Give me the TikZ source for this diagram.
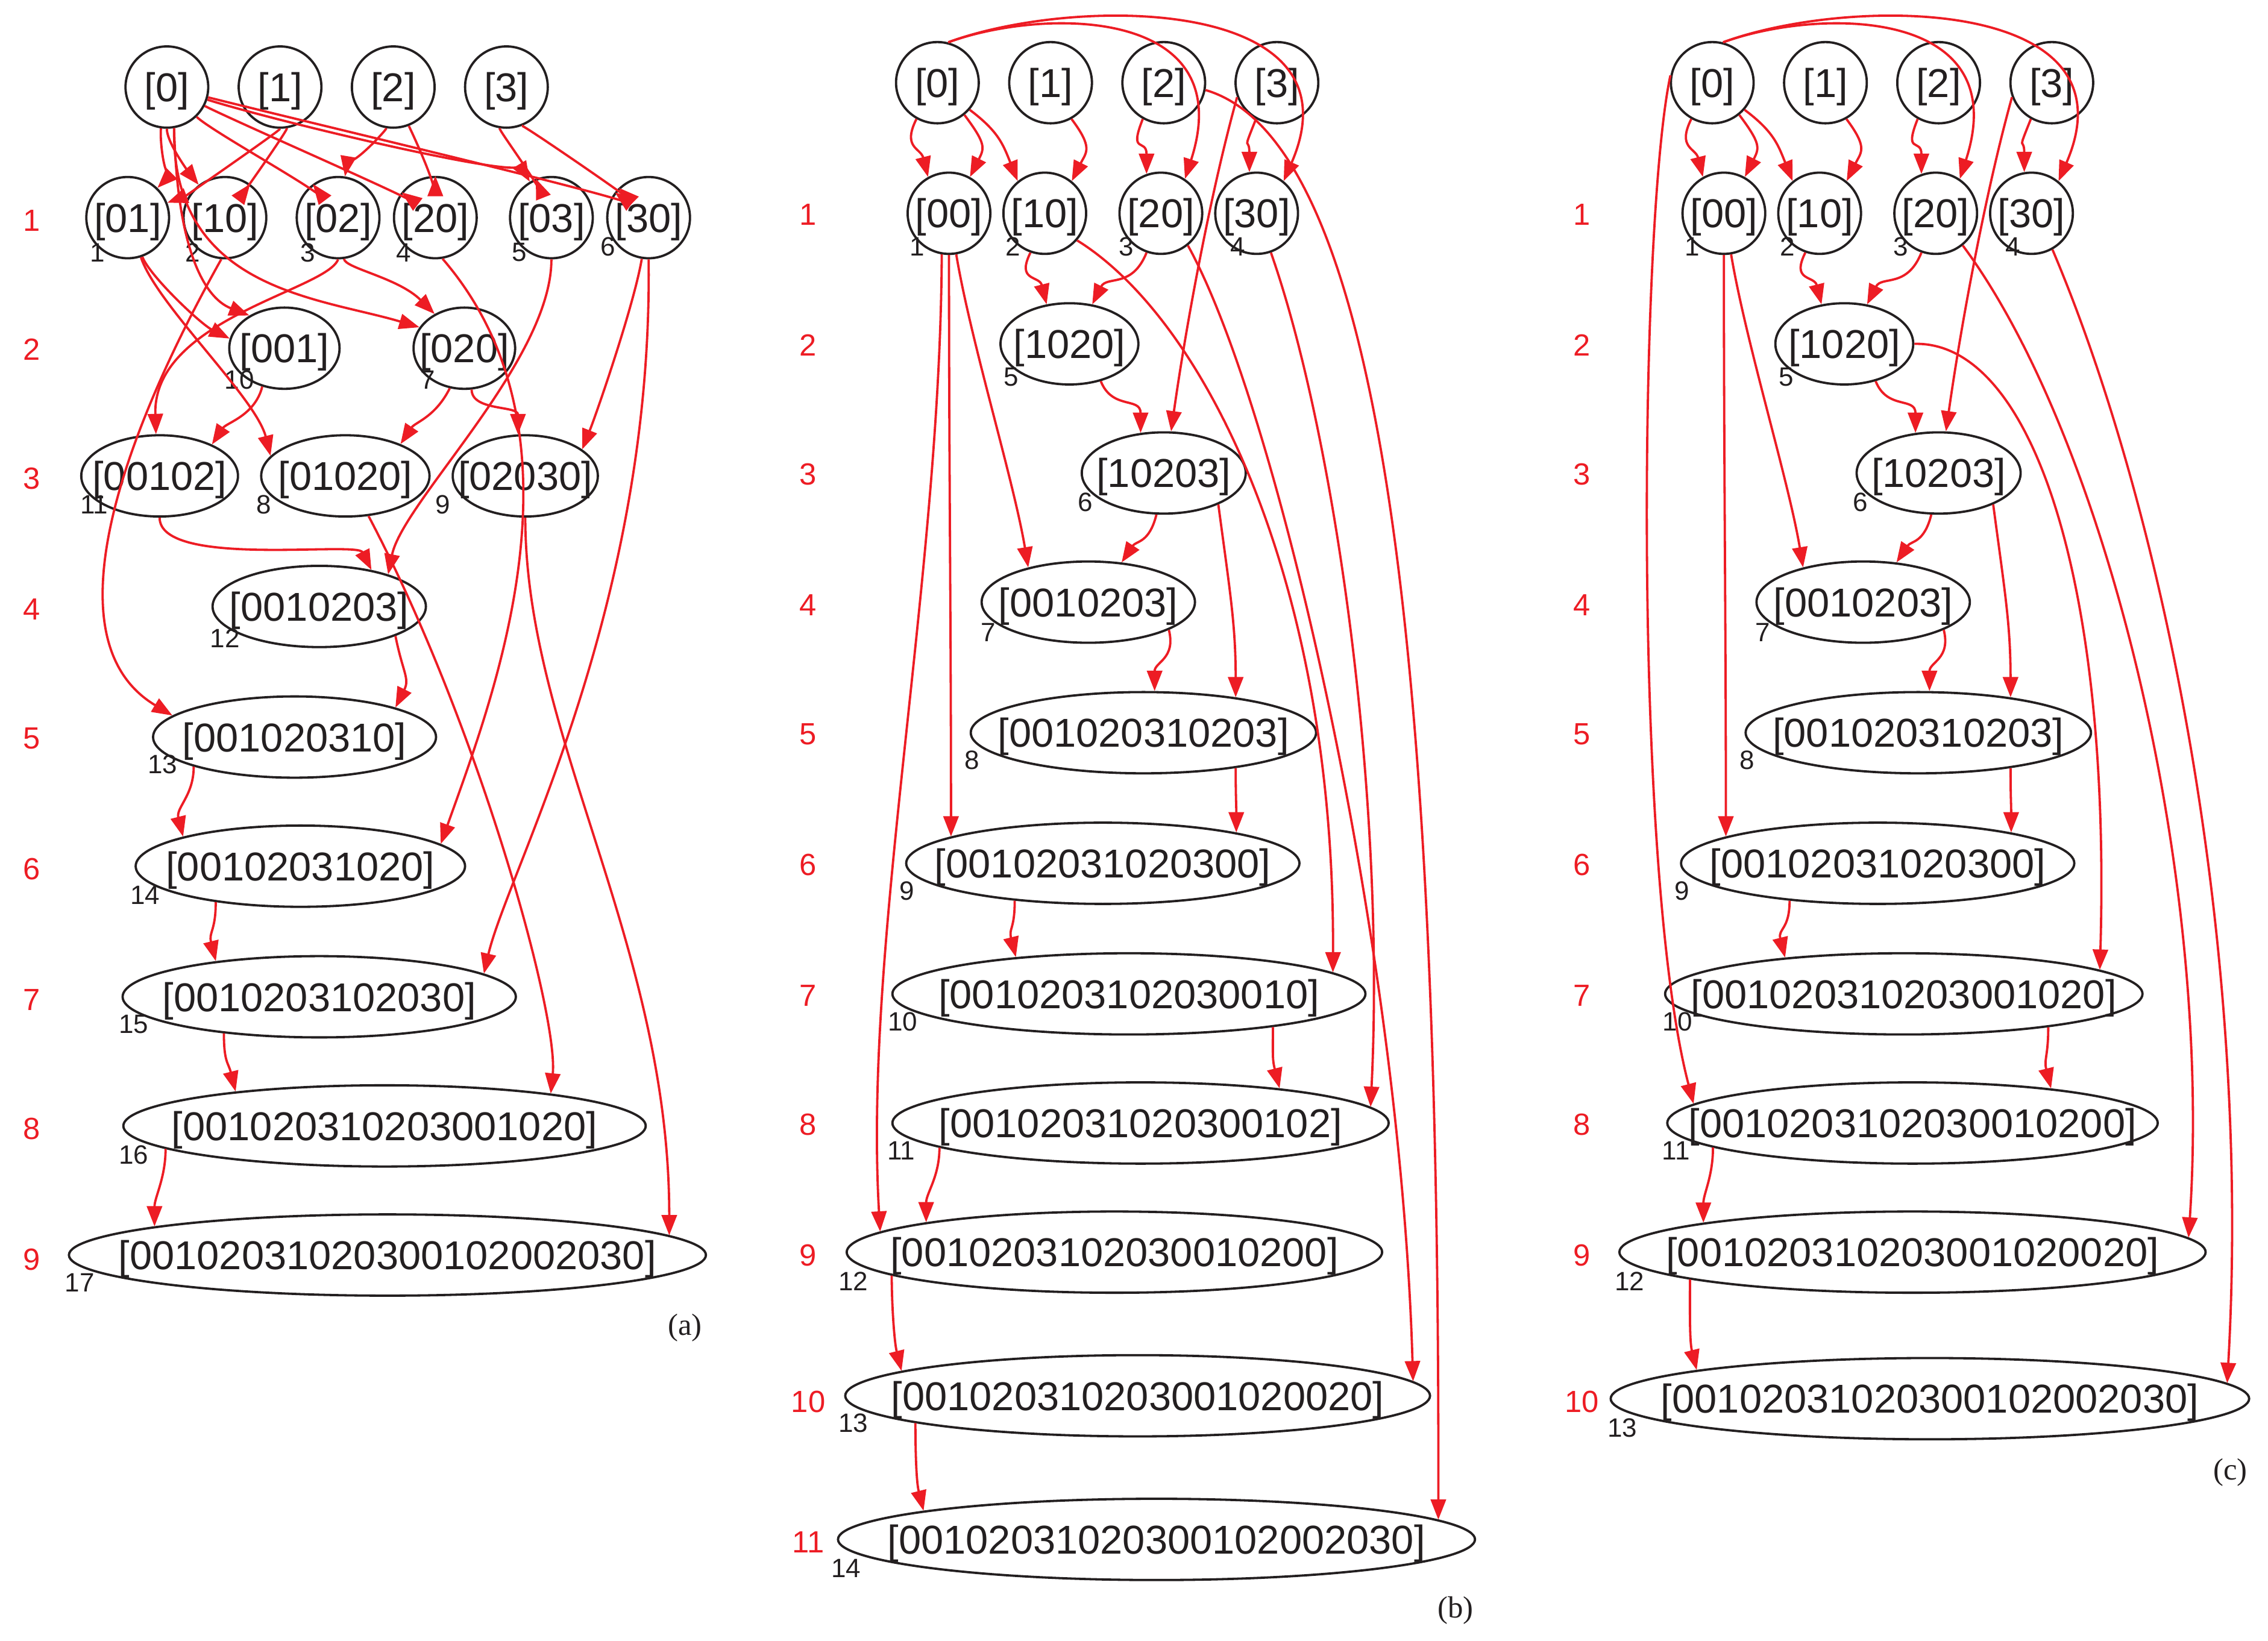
\documentclass[tikz,border=0pt]{standalone}
\usepackage{fontspec}
\setmainfont{Liberation Sans}
\newfontfamily\capfont{Liberation Serif}
\usetikzlibrary{shapes.geometric,arrows.meta,calc}
\definecolor{ered}{RGB}{237,28,36}
\definecolor{ink}{RGB}{35,31,32}
\newcommand{\tx}[1]{\makebox[0pt]{\raisebox{-.36em}[0pt][0pt]{#1}}}
\begin{document}
\begin{tikzpicture}[x=0.1mm,y=-0.1mm,
  nd/.style={draw=ink,ellipse,line width=0.45pt,minimum height=5.6mm,minimum width=#1,inner sep=0pt,font=\fontsize{7.9}{9}\selectfont,text=ink},
  nd/.default=5.7mm,
  e/.style={draw=ered,line width=0.45pt,-{Triangle[length=1.4mm,width=1.05mm]}},
  num/.style={font=\fontsize{5.2}{6}\selectfont,text=ink,inner sep=0pt},
  rl/.style={font=\fontsize{6}{7}\selectfont,text=ered,inner sep=0pt},
  captxt/.style={font=\capfont\fontsize{6}{7}\selectfont,text=ink,inner sep=0pt}]
\useasboundingbox[fill=white] (0,0) rectangle (1563,1131);
% ================= panel (a) =================
\node[nd] (at0) at (115,60) {\tx{[0]}};
\node[nd] (at1) at (193,60) {\tx{[1]}};
\node[nd] (at2) at (271,60) {\tx{[2]}};
\node[nd] (at3) at (349,60) {\tx{[3]}};
\node[nd] (a1) at (88,150) {\tx{[01]}};
\node[nd] (a2) at (155,150) {\tx{[10]}};
\node[nd] (a3) at (233,150) {\tx{[02]}};
\node[nd] (a4) at (300,150) {\tx{[20]}};
\node[nd] (a5) at (380,150) {\tx{[03]}};
\node[nd] (a6) at (447,150) {\tx{[30]}};
\node[nd=7.6mm] (a10) at (196,240) {\tx{[001]}};
\node[nd=7.0mm] (a7) at (320,240) {\tx{[020]}};
\node[nd=10.8mm] (a11) at (110,328) {\tx{[00102]}};
\node[nd=11.6mm] (a8) at (238,328) {\tx{[01020]}};
\node[nd=10.0mm] (a9) at (362,328) {\tx{[02030]}};
\node[nd=14.7mm] (a12) at (220,418) {\tx{[0010203]}};
\node[nd=19.5mm] (a13) at (203,508) {\tx{[001020310]}};
\node[nd=22.7mm] (a14) at (207,597) {\tx{[00102031020]}};
\node[nd=27.1mm] (a15) at (220,687) {\tx{[0010203102030]}};
\node[nd=36.0mm] (a16) at (265,776) {\tx{[001020310203001020]}};
\node[nd=43.9mm] (a17) at (267,865) {\tx{[00102031020300102002030]}};
\foreach \n/\x/\y in {1/67/174,2/133/174,3/212/174,4/278/174,5/358/174,6/419/170,10/165/262,7/295/262,11/65/348,8/182/348,9/305/348,12/155/440,13/112/527,14/100/617,15/92/706,16/92/796,17/55/884}
  \node[num] (la\n) at (\x,\y) {\n};
\foreach \r/\y in {1/152,2/241,3/330,4/420,5/509,6/599,7/689,8/778,9/868}
  \node[rl] (ra\r) at (22,\y) {\r};
\node[captxt] (capa) at (472,915) {(a)};
% edges (a)
\draw[e] (at0) .. controls +(-5,35) and +(25,-25) .. (a1);
\draw[e] (at0) .. controls +(0,40) and +(-20,-25) .. (a2);
\draw[e] (at0) .. controls +(30,30) and +(-15,-20) .. (a3);
\draw[e] (at0) .. controls +(50,25) and +(-20,-15) .. (a4);
\draw[e] (at0) .. controls +(80,25) and +(-15,-25) .. (a5);
\draw[e] (at0) .. controls +(100,25) and +(-20,-15) .. (a6);
\draw[e] (at1) .. controls +(0,30) and +(40,-15) .. (a1);
\draw[e] (at1) .. controls +(5,30) and +(15,-20) .. (a2);
\draw[e] (at2) .. controls +(-5,30) and +(5,-30) .. (a3);
\draw[e] (at2) .. controls +(10,25) and +(0,-25) .. (a4);
\draw[e] (at3) .. controls +(-5,30) and +(-10,-25) .. (a5);
\draw[e] (at3) .. controls +(10,25) and +(-15,-15) .. (a6);
\draw[e] (at0.-80) .. controls (122,170) and (140,205) .. (a10.137);
\draw[e] (at0.-80) .. controls (118,200) and (220,205) .. (a7.155);
\draw[e] (a1) .. controls +(15,40) and +(-20,-10) .. (a10.170);
\draw[e] (a1) .. controls +(20,60) and +(-10,-40) .. (a8.165);
\draw[e] (a3) .. controls +(5,35) and +(-25,-25) .. (a7.131);
\draw[e] (a3.-90) .. controls (225,200) and (105,220) .. (a11.95);
\draw[e] (a2.-95) .. controls (90,290) and (30,440) .. (a13.170);
\draw[e] (a10.-120) .. controls +(-5,20) and +(10,-15) .. (a11.31);
\draw[e] (a7.-110) .. controls +(-10,20) and +(10,-15) .. (a8.30);
\draw[e] (a7.-80) .. controls +(0,15) and +(0,-20) .. (a9.100);
\draw[e] (a6) .. controls +(-10,60) and +(10,-25) .. (a9.25);
\draw[e] (a11.south) .. controls +(0,35) and +(-10,-20) .. (a12.35);
\draw[e] (a5.south) .. controls +(0,70) and +(10,-50) .. (a12.25);
\draw[e] (a12.south east) .. controls +(5,25) and +(10,-20) .. (a13.north east);
\draw[e] (a4.-80) .. controls (410,300) and (340,480) .. (a14.9);
\draw[e] (a13.south west) .. controls +(0,20) and +(-5,-20) .. (a14.north west);
\draw[e] (a6.-90) .. controls (450,420) and (350,600) .. (a15.8);
\draw[e] (a14.-157) .. controls +(0,20) and +(-5,-20) .. (a15.161);
\draw[e] (a8.-60) .. controls (330,500) and (385,700) .. (a16.11);
\draw[e] (a15.-159) .. controls +(0,20) and +(-5,-20) .. (a16.167);
\draw[e] (a9.south) .. controls +(0,150) and +(0,-200) .. (a17.4);
\draw[e] (a16.-174) .. controls +(0,20) and +(0,-20) .. (a17.173);
% ================= panels (b),(c) shared =================
\foreach \p/\o in {b/0,c/534} {
  \node[nd] (\p t0) at ({646+\o},57) {\tx{[0]}};
  \node[nd] (\p t1) at ({724+\o},57) {\tx{[1]}};
  \node[nd] (\p t2) at ({802+\o},57) {\tx{[2]}};
  \node[nd] (\p t3) at ({880+\o},57) {\tx{[3]}};
  \node[nd] (\p1) at ({654+\o},147) {\tx{[00]}};
  \node[nd] (\p2) at ({720+\o},147) {\tx{[10]}};
  \node[nd] (\p3) at ({800+\o},147) {\tx{[20]}};
  \node[nd] (\p4) at ({866+\o},147) {\tx{[30]}};
  \node[nd=9.5mm] (\p5) at ({737+\o},237) {\tx{[1020]}};
  \node[nd=11.3mm] (\p6) at ({802+\o},326) {\tx{[10203]}};
  \node[nd=14.7mm] (\p7) at ({750+\o},415) {\tx{[0010203]}};
  \node[nd=23.8mm] (\p8) at ({788+\o},505) {\tx{[001020310203]}};
  \node[nd=27.1mm] (\p9) at ({760+\o},595) {\tx{[00102031020300]}};
  \foreach \n/\x/\y in {1/632/170,2/698/170,3/776/170,4/853/170,5/697/260,6/748/346,7/681/436,8/670/524,9/625/614}
    \node[num] (l\p\n) at ({\x+\o},\y) {\n};
  \draw[e] (\p t0.-120) .. controls +(-10,20) and +(-5,-20) .. (\p1.120);
  \draw[e] (\p t0.-50) .. controls +(15,20) and +(10,-20) .. (\p1.60);
  \draw[e] (\p t0.-40) .. controls +(20,15) and +(-10,-25) .. (\p2.130);
  \draw[e] (\p t1.-60) .. controls +(15,20) and +(10,-20) .. (\p2.50);
  \draw[e] (\p t0.75) .. controls ({720+\o},5) and ({855+\o},5) .. (\p3.55);
  \draw[e] (\p t0.75) .. controls ({740+\o},-3) and ({940+\o},-3) .. (\p4.50);
  \draw[e] (\p t2.-120) .. controls +(-10,25) and +(0,-25) .. (\p3.110);
  \draw[e] (\p t3.-120) .. controls +(-10,25) and +(0,-25) .. (\p4.100);
  \draw[e] (\p t3.-160) .. controls ({835+\o},130) and ({818+\o},220) .. (\p6.80);
  \draw[e] (\p2.-110) .. controls +(-10,20) and +(-5,-20) .. (\p5.120);
  \draw[e] (\p3.-110) .. controls +(-10,25) and +(10,-20) .. (\p5.60);
  \draw[e] (\p5.-50) .. controls +(8,20) and +(0,-25) .. (\p6.120);
  \draw[e] (\p6.-100) .. controls +(-5,20) and +(10,-15) .. (\p7.50);
  \draw[e] (\p1.-80) .. controls +(10,60) and +(-10,-60) .. (\p7.150);
  \draw[e] (\p7.-19) .. controls +(5,20) and +(0,-20) .. (\p8.75);
  \draw[e] (\p6.-30) .. controls +(8,60) and +(0,-50) .. (\p8.21);
  \draw[e] (\p8.-21) .. controls +(0,20) and +(0,-20) .. (\p9.13);
  \draw[e] (\p1.-90) .. controls +(0,150) and +(0,-150) .. (\p9.170);
}
% (b) specific
\node[nd=32.6mm] (b10) at (778,685) {\tx{[0010203102030010]}};
\node[nd=34.2mm] (b11) at (786,774) {\tx{[00102031020300102]}};
\node[nd=36.9mm] (b12) at (768,863) {\tx{[0010203102030010200]}};
\node[nd=40.3mm] (b13) at (784,962) {\tx{[001020310203001020020]}};
\node[nd=43.9mm] (b14) at (797,1061) {\tx{[00102031020300102002030]}};
\foreach \n/\x/\y in {10/622/704,11/621/793,12/588/883,13/588/981,14/583/1081}
  \node[num] (lb\n) at (\x,\y) {\n};
\foreach \r/\y in {1/148,2/238,3/327,4/417,5/506,6/596,7/686,8/775,9/865,10/966,11/1063}
  \node[rl] (rb\r) at (557,\y) {\r};
\node[captxt] (capb) at (1003,1110) {(b)};
\draw[e] (b9.-157) .. controls +(0,20) and +(-5,-20) .. (b10.162);
\draw[e] (b2.-40) .. controls (830,220) and (920,400) .. (b10.6);
\draw[e] (b10.-13) .. controls +(0,20) and +(-5,-20) .. (b11.14);
\draw[e] (b4.-70) .. controls (920,300) and (955,550) .. (b11.4);
\draw[e] (b11.-173) .. controls +(0,20) and +(0,-20) .. (b12.171);
\draw[e] (b1.-100) .. controls (648,400) and (595,650) .. (b12.175);
\draw[e] (b3.-50) .. controls (880,280) and (965,650) .. (b13.3);
\draw[e] (b12.-174) .. controls +(0,20) and +(-5,-20) .. (b13.174);
\draw[e] (b13.-173) .. controls +(0,20) and +(-5,-20) .. (b14.173);
\draw[e] (bt2.-10) .. controls (960,100) and (992,500) .. (b14.4);
% (c) specific
\node[nd=32.9mm] (c10) at (1312,685) {\tx{[001020310203001020]}};
\node[nd=33.8mm] (c11) at (1318,774) {\tx{[0010203102030010200]}};
\node[nd=40.4mm] (c12) at (1318,863) {\tx{[001020310203001020020]}};
\node[nd=44.0mm] (c13) at (1330,964) {\tx{[00102031020300102002030]}};
\foreach \n/\x/\y in {10/1156/704,11/1155/793,12/1123/883,13/1118/984}
  \node[num] (lc\n) at (\x,\y) {\n};
\foreach \r/\y in {1/148,2/238,3/327,4/417,5/506,6/596,7/686,8/775,9/865,10/966}
  \node[rl] (rc\r) at (1090,\y) {\r};
\node[captxt] (capc) at (1537,1015) {(c)};
\draw[e] (c9.-157) .. controls +(0,20) and +(-5,-20) .. (c10.163);
\draw[e] (c5.0) .. controls (1400,235) and (1455,400) .. (c10.7);
\draw[e] (c10.-13) .. controls +(0,20) and +(-5,-20) .. (c11.14);
\draw[e] (ct0.170) .. controls (1130,150) and (1125,600) .. (c11.175);
\draw[e] (c11.-173) .. controls +(0,20) and +(0,-20) .. (c12.172);
\draw[e] (c3.-50) .. controls (1450,300) and (1525,600) .. (c12.3);
\draw[e] (c12.-173) .. controls +(0,20) and +(-5,-20) .. (c13.173);
\draw[e] (c4.-60) .. controls (1490,350) and (1552,650) .. (c13.3);
\end{tikzpicture}
\end{document}
